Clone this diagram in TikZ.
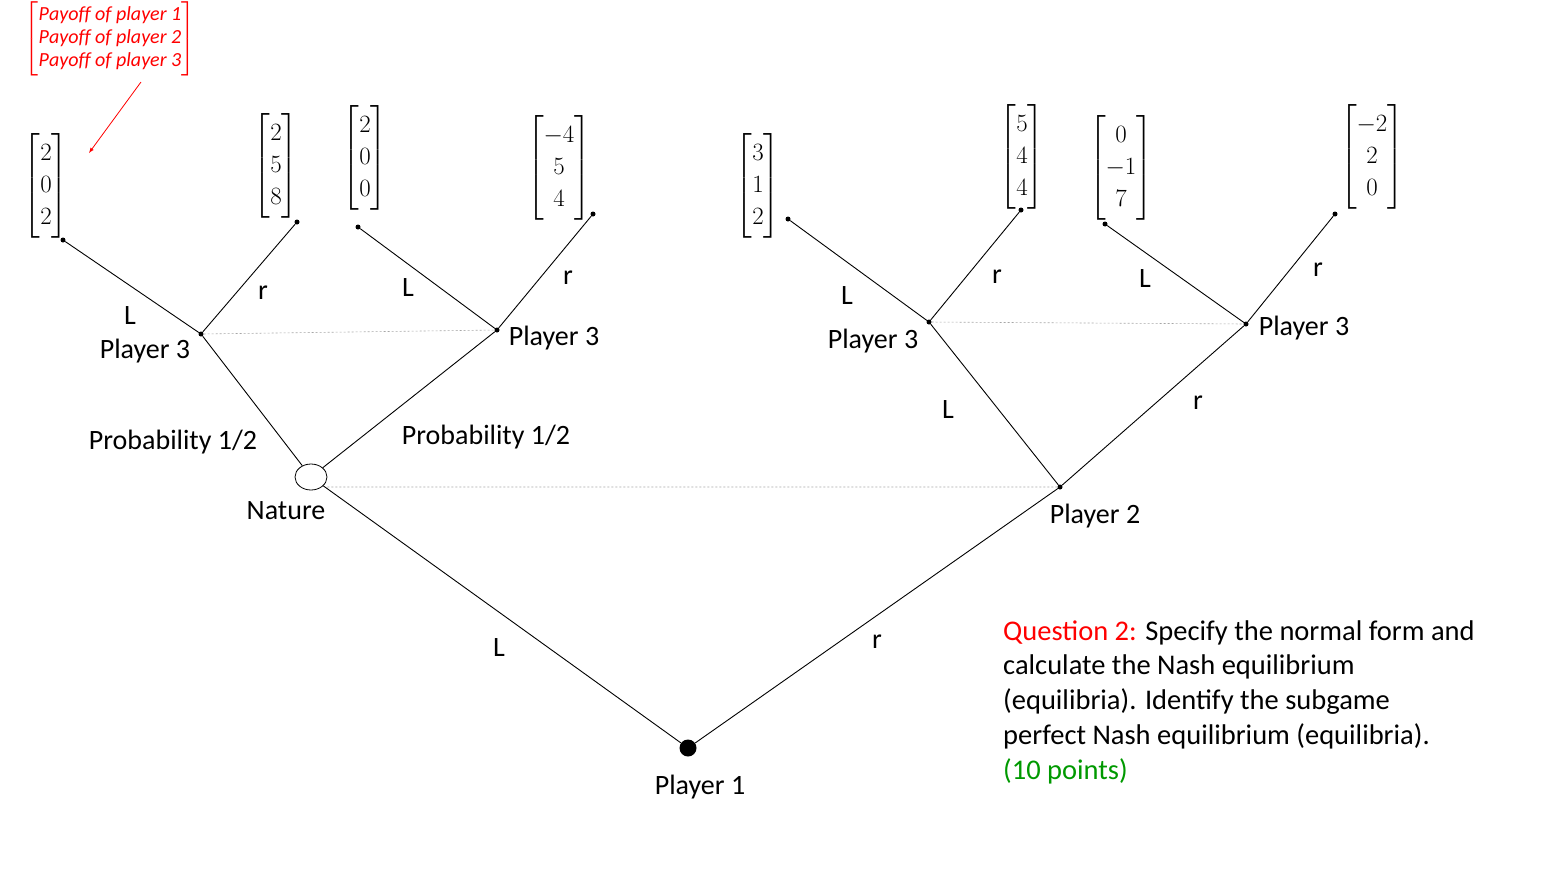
\documentclass[tikz,border=0pt]{standalone}
\usepackage{amsmath}
\usepackage{fontspec}
\setmainfont{Carlito}
\usetikzlibrary{shapes.geometric}
\begin{document}
\begin{tikzpicture}[x=1pt,y=-1pt,
  edge/.style={line width=0.9pt},
  info/.style={gray!70,line width=0.6pt,dash pattern=on 2pt off 2pt},
  dot/.style={circle,fill,inner sep=0pt,minimum size=5pt},
  lab/.style={font=\fontsize{28}{32}\selectfont},
  pay/.style={font=\fontsize{27.5}{32}\selectfont,inner sep=0pt}]
\useasboundingbox (0,0) rectangle (1544,868);
\node[circle,fill,inner sep=0pt,minimum size=17pt] (p1) at (688,748) {};
\node[draw,ellipse,minimum width=32pt,minimum height=26pt,inner sep=0pt,line width=0.8pt] (nat) at (311,477) {};
\node[dot] (p2) at (1060,487) {};
\node[dot] (a) at (201,334) {};
\node[dot] (b) at (497,330) {};
\node[dot] (c) at (929,322) {};
\node[dot] (d) at (1246,324) {};
\foreach \n/\x/\y in {l1/63/240,l2/297/222,l3/358/227,l4/593/214,l5/788/219,l6/1021/210,l7/1105/224,l8/1335/214}
  \node[dot] (\n) at (\x,\y) {};
\draw[edge] (p1)--(nat) (p1)--(p2) (nat)--(a) (nat)--(b) (p2)--(c) (p2)--(d)
  (a)--(l1) (a)--(l2) (b)--(l3) (b)--(l4) (c)--(l5) (c)--(l6) (d)--(l7) (d)--(l8);
\draw[info] (a)--(b) (c)--(d) (nat.east |- p2)--(p2);
\foreach \t/\x/\y in {L/130/316,r/263/293,L/408/288,r/568/278,L/847/296,r/997/277,L/1145/279,r/1318/270,L/948/410,r/1198/403,L/499/648,r/877/642}
  \node[lab] at (\x,\y) {\t};
\node[lab] (t1) at (145,351) {Player 3};
\node[lab] (t2) at (554,338) {Player 3};
\node[lab] (t3) at (873,341) {Player 3};
\node[lab] (t4) at (1304,328) {Player 3};
\node[lab] (t5) at (286,511) {Nature};
\node[lab] (t6) at (1095,516) {Player 2};
\node[lab] (t7) at (700,787) {Player 1};
\node[lab] (t8) at (173,442) {Probability 1/2};
\node[lab] (t9) at (486,437) {Probability 1/2};
\node[pay] (v1) at (46,186) {$\begin{bmatrix}2\\0\\2\end{bmatrix}$};
\node[pay] (v2) at (276,166) {$\begin{bmatrix}2\\5\\8\end{bmatrix}$};
\node[pay] (v3) at (365,158) {$\begin{bmatrix}2\\0\\0\end{bmatrix}$};
\node[pay] (v4) at (559,168) {$\begin{bmatrix}-4\\5\\4\end{bmatrix}$};
\node[pay] (v5) at (758,186) {$\begin{bmatrix}3\\1\\2\end{bmatrix}$};
\node[pay] (v6) at (1022,157) {$\begin{bmatrix}5\\4\\4\end{bmatrix}$};
\node[pay] (v7) at (1121,168) {$\begin{bmatrix}0\\-1\\7\end{bmatrix}$};
\node[pay] (v8) at (1372,157) {$\begin{bmatrix}-2\\2\\0\end{bmatrix}$};
\node[red,inner sep=0pt,font=\fontsize{20}{23}\selectfont] (leg) at (110,39)
  {$\begin{bmatrix}\mathit{Payoff\ of\ player\ 1}\\\mathit{Payoff\ of\ player\ 2}\\\mathit{Payoff\ of\ player\ 3}\end{bmatrix}$};
\coordinate (tip) at (89,153);
\draw[red,-latex,line width=0.8pt] (141,82)--(tip);
\node[anchor=north west,align=left,inner sep=0pt,font=\fontsize{28.5}{34.8}\selectfont] (q) at (1003,620)
 {\textcolor{red}{Question 2:} Specify the normal form and\\calculate the Nash equilibrium\\(equilibria). Identify the subgame\\perfect Nash equilibrium (equilibria).\\\textcolor{green!60!black}{(10 points)}};
\end{tikzpicture}
\end{document}
